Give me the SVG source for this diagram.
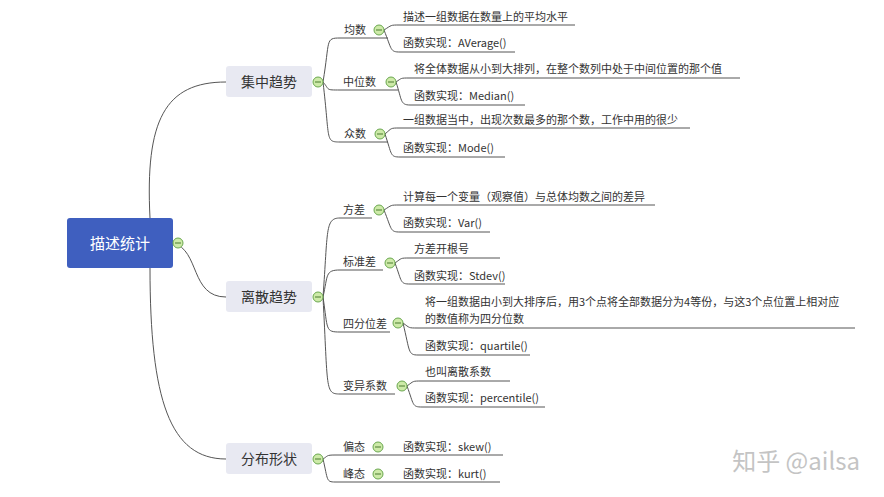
<svg xmlns="http://www.w3.org/2000/svg" width="884" height="497" viewBox="0 0 884 497">
<style>
text{font-family:"Noto Sans CJK SC","Microsoft YaHei",sans-serif;fill:#333}
.l1 rect{fill:#e8e9f2}
.l1 text{font-size:14px}
.t{font-size:11px}
.c path,.u{fill:none;stroke:#555;stroke-width:1}
.ic{fill:#cdeaa8;stroke:#6aa84f;stroke-width:1}
.im{stroke:#4a7a30;stroke-width:1}
</style>
<defs>
<g id="icon"><circle r="5" class="ic"/><line x1="-3" x2="3" class="im"/></g>
</defs>
<rect width="884" height="497" fill="#fff"/>
<g class="c" id="connectors">
<path d="M150,218 C145,120 165,82 226,82"/>
<path d="M173,243 C200,250 190,297 226,297"/>
<path d="M150,268 C150,400 170,459 226,459"/>
<path d="M323,82 C330,40 325,38 340,38 L388,38"/>
<path d="M323,82 C330,90 325,90 340,90 L398,90"/>
<path d="M323,82 C330,140 325,142 340,142 L388,142"/>
<path d="M384,30 C392,25 390,25 400,25 L575,25"/>
<path d="M384,30 C392,50 390,52 400,52 L515,52"/>
<path d="M396,82 C402,78 400,78 410,78 L740,78"/>
<path d="M396,82 C402,100 400,105 410,105 L525,105"/>
<path d="M385,134 C392,128 390,128 400,128 L690,128"/>
<path d="M385,134 C392,155 390,157 400,157 L505,157"/>
<path d="M323,297 C328,230 325,218 340,218 L372,218"/>
<path d="M323,297 C328,275 325,270 340,270 L383,270"/>
<path d="M323,297 C328,330 325,332 340,332 L390,332"/>
<path d="M323,297 C328,390 325,394 340,394 L395,394"/>
<path d="M384,210 C392,205 390,205 400,205 L655,205"/>
<path d="M384,210 C392,230 390,232 400,232 L490,232"/>
<path d="M395,263 C402,258 400,258 410,258 L500,258"/>
<path d="M395,263 C402,282 400,284 410,284 L505,284"/>
<path d="M403,323 C410,328 408,328 418,328 L855,328"/>
<path d="M403,323 C410,352 408,355 418,355 L530,355"/>
<path d="M407,386 C414,381 412,381 422,381 L510,381"/>
<path d="M407,386 C414,405 412,407 422,407 L545,407"/>
<path d="M323,459 C328,456 326,455 335,455 L503,455"/>
<path d="M323,459 C328,480 326,482 335,482 L500,482"/>
</g>
<g id="root"><rect x="67" y="218" width="106" height="50" rx="3" fill="#3f5fbf"/><text x="120" y="249" text-anchor="middle" style="font-size:15px;fill:#fff">描述统计</text><use href="#icon" x="178" y="243"/></g>
<g id="n-jizhong" class="l1"><rect x="226" y="66" width="86" height="31" rx="3"/><text x="269" y="87" text-anchor="middle">集中趋势</text><use href="#icon" x="318" y="82"/></g>
<g id="n-lisan" class="l1"><rect x="226" y="281" width="86" height="31" rx="3"/><text x="269" y="302" text-anchor="middle">离散趋势</text><use href="#icon" x="318" y="297"/></g>
<g id="n-fenbu" class="l1"><rect x="226" y="443" width="86" height="31" rx="3"/><text x="269" y="464" text-anchor="middle">分布形状</text><use href="#icon" x="318" y="459"/></g>
<g id="n-junshu"><text class="t" x="344" y="34">均数</text><use href="#icon" x="379" y="30"/></g>
<g id="n-zhongwei"><text class="t" x="343" y="86">中位数</text><use href="#icon" x="391" y="82"/></g>
<g id="n-zhongshu"><text class="t" x="344" y="138">众数</text><use href="#icon" x="380" y="134"/></g>
<g id="n-fangcha"><text class="t" x="343" y="214">方差</text><use href="#icon" x="379" y="210"/></g>
<g id="n-biaozhun"><text class="t" x="343" y="266">标准差</text><use href="#icon" x="390" y="263"/></g>
<g id="n-sifen"><text class="t" x="343" y="328">四分位差</text><use href="#icon" x="398" y="323"/></g>
<g id="n-bianyi"><text class="t" x="343" y="390">变异系数</text><use href="#icon" x="402" y="386"/></g>
<g id="n-piantai"><text class="t" x="343" y="451">偏态</text><use href="#icon" x="378" y="447"/><text class="t" x="403" y="451">函数实现：skew()</text></g>
<g id="n-fengtai"><text class="t" x="343" y="478">峰态</text><use href="#icon" x="378" y="474"/><text class="t" x="403" y="478">函数实现：kurt()</text></g>
<g id="leaves">
<text class="t" x="403" y="21">描述一组数据在数量上的平均水平</text>
<text class="t" x="403" y="47">函数实现：AVerage()</text>
<text class="t" x="414" y="73">将全体数据从小到大排列，在整个数列中处于中间位置的那个值</text>
<text class="t" x="414" y="100">函数实现：Median()</text>
<text class="t" x="403" y="124">一组数据当中，出现次数最多的那个数，工作中用的很少</text>
<text class="t" x="403" y="152">函数实现：Mode()</text>
<text class="t" x="403" y="201">计算每一个变量（观察值）与总体均数之间的差异</text>
<text class="t" x="403" y="227">函数实现：Var()</text>
<text class="t" x="414" y="253">方差开根号</text>
<text class="t" x="414" y="280">函数实现：Stdev()</text>
<text class="t" x="425" y="306">将一组数据由小到大排序后，用3个点将全部数据分为4等份，与这3个点位置上相对应</text>
<text class="t" x="425" y="323">的数值称为四分位数</text>
<text class="t" x="425" y="350">函数实现：quartile()</text>
<text class="t" x="425" y="376">也叫离散系数</text>
<text class="t" x="425" y="402">函数实现：percentile()</text>
</g>
<text x="860" y="470" text-anchor="end" style="font-size:24px;fill:#c4c4c4">知乎 @ailsa</text>
</svg>
